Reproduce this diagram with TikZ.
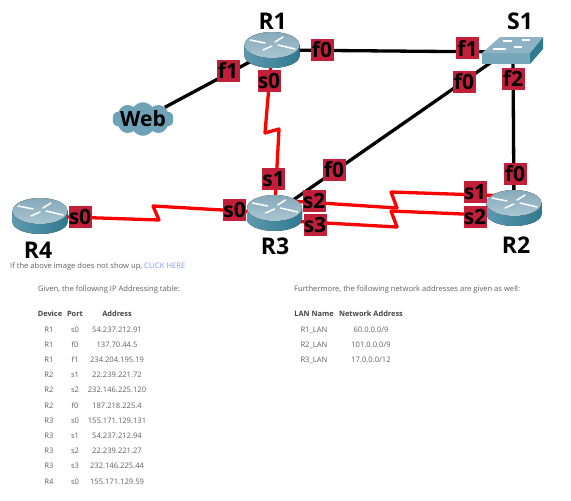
\documentclass[tikz,border=0pt]{standalone}
\usepackage{fontspec}
\setmainfont{Open Sans}
\usepackage{xcolor}
\usetikzlibrary{
  positioning,
  shapes.symbols
}
\definecolor{portred}{HTML}{C21F3A}
\definecolor{wanred}{HTML}{FF0000}
\definecolor{bodytext}{HTML}{5F5F5F}
\definecolor{headtext}{HTML}{444444}
\definecolor{linkblue}{HTML}{7F95F0}
\definecolor{devtop}{HTML}{8DB2C3}
\definecolor{devdark}{HTML}{2F7A90}
\definecolor{devmid}{HTML}{DCEAF0}
\definecolor{devleft}{HTML}{5E98AE}

\begin{document}
\begin{tikzpicture}[
  x=1pt, y=-1pt,
  port/.style={fill=portred, text=black, font=\fontsize{21}{21}\selectfont\bfseries,
    minimum width=23pt, minimum height=22pt, inner sep=0pt},
  devlabel/.style={text=black, font=\fontsize{23}{23}\selectfont\bfseries, inner sep=0pt},
  devspot/.style={inner sep=0pt, minimum width=30pt, minimum height=20pt},
  lanlink/.style={draw=black, line width=3.3pt},
  wanlink/.style={draw=wanred, line width=3.3pt, line join=round},
  cloudnode/.style={cloud, cloud puffs=10, cloud puff arc=110, aspect=2.4, fill=devleft!90!white,
    font=\fontsize{21}{21}\selectfont\bfseries, inner sep=-1.5pt},
  bodynote/.style={text=bodytext, font=\fontsize{7.6}{8}\selectfont, inner sep=0pt},
  headnote/.style={text=headtext, font=\fontsize{7.4}{8}\selectfont\bfseries, inner sep=0pt},
  routericon/.pic={
    \fill[left color=devleft, middle color=devmid, right color=devdark]
      (-27.5,-5) -- (-27.5,6) .. controls (-27.5,13) and (-14,18) .. (0,18)
      .. controls (14,18) and (27.5,13) .. (27.5,6) -- (27.5,-5) -- cycle;
    \fill[top color=devtop!95!black, bottom color=devtop!75!white] (0,-5) ellipse [x radius=27.5pt, y radius=13pt];
    \draw[white, line width=1.5pt, line cap=round] (-22,-10) -- (-7,-7);
    \draw[white, line width=1.5pt, line cap=round] (6,-5) -- (23,-1);
    \draw[white, line width=1.5pt, line cap=round] (3,-8) -- (11,-13);
    \draw[white, line width=1.5pt, line cap=round] (-9,0) -- (0,-4);
  },
  switchicon/.pic={
    \fill[devdark] (24,1) -- (37,-15) -- (37,-3) -- (24,12) -- cycle;
    \fill[devleft!85!white] (-24,1) -- (24,1) -- (24,12) -- (-24,12) -- cycle;
    \fill[devtop] (-24,1) -- (-6,-15) -- (37,-15) -- (24,1) -- cycle;
    \draw[white, line width=1.2pt] (-3,-11) -- (6,-11);
    \draw[white, line width=1.2pt] (16,-12) -- (24,-12);
    \draw[white, line width=1.2pt] (-13,-3) -- (0,-3);
    \draw[white, line width=1.2pt] (8,-5) -- (16,-5);
  }
]

% ============ DEVICES ============
\useasboundingbox (0,0) rectangle (571,501);
\node[devspot] (R1) at (272,50) {};
\node[devspot] (R2) at (514,208) {};
\node[devspot] (R3) at (274.5,213) {};
\node[devspot] (R4) at (40,216) {};
\node[devspot] (S1) at (506,52) {};
\node[cloudnode] (Web) at (143,119) {Web};

% ============ LINKS ============
\coordinate (wanAa) at (265,133);
\coordinate (wanAb) at (279,129);
\coordinate (wanBa) at (159,220);
\coordinate (wanBb) at (153,206);
\coordinate (wanCa) at (397,208);
\coordinate (wanCb) at (391,192);
\coordinate (wanDa) at (397,227);
\coordinate (wanDb) at (391,211);
\coordinate (R3s2) at (290,201);
\coordinate (R3s3) at (290,221);
\coordinate (R2s1) at (510,196);
\coordinate (R2s2) at (510,216);
\coordinate (S1down) at (513,58);
\draw[lanlink] (Web) -- (R1);
\draw[lanlink] (R1) -- (S1);
\draw[lanlink] (S1) -- (R3);
\draw[lanlink] (S1down) -- (R2);
\draw[wanlink] (R1) -- (wanAa) -- (wanAb) -- (R3);
\draw[wanlink] (R4) -- (wanBa) -- (wanBb) -- (R3);
\draw[wanlink] (R3s2) -- (wanCa) -- (wanCb) -- (R2s1);
\draw[wanlink] (R3s3) -- (wanDa) -- (wanDb) -- (R2s2);

\pic at (R1) {routericon};
\pic at (R2) {routericon};
\pic at (R3) {routericon};
\pic at (R4) {routericon};
\pic at (S1) {switchicon};

% ============ PORTS ============
\node[port] (R1f1) at (228,70.5) {f1};
\node[port] (R1s0) at (269,81) {s0};
\node[port] (R1f0) at (322,50) {f0};
\node[port] (S1f1) at (467.5,48) {f1};
\node[port] (S1f0) at (464,82) {f0};
\node[port] (S1f2) at (513,78.5) {f2};
\node[port] (R3s1) at (273.7,179) {s1};
\node[port] (R3s0) at (234.7,210) {s0};
\node[port] (R4s0) at (80,217) {s0};
\node[port] (R3f0) at (334,170) {f0};
\node[port] (R3ps2) at (314,200.5) {s2};
\node[port] (R3ps3) at (315,225) {s3};
\node[port] (R2ps1) at (475,192) {s1};
\node[port] (R2ps2) at (475,217) {s2};
\node[port] (R2f0) at (515,174) {f0};

% ============ NAMES ============
\node[devlabel] (nameR1) at (272.7,21) {R1};
\node[devlabel] (nameS1) at (520,21) {S1};
\node[devlabel] (nameR4) at (38,250) {R4};
\node[devlabel] (nameR3) at (275,246) {R3};
\node[devlabel] (nameR2) at (516,245) {R2};

% ============ NOTES ============
\node[bodynote, anchor=west] (noteimg) at (10,267) {If the above image does not show up, \textcolor{linkblue}{CLICK HERE}};
\node[bodynote, anchor=west] (notegiven) at (38,290) {Given, the following IP Addressing table:};
\node[bodynote, anchor=west] (notemore) at (294,290) {Furthermore, the following network addresses are given as well:};

% ============ IP TABLE ============
\node[headnote] (headdev) at (50,314) {Device};
\node[headnote] (headport) at (75,314) {Port};
\node[headnote] (headaddr) at (117,314) {Address};
\node[bodynote] (devA) at (49,330) {R1};
\node[bodynote] (portA) at (75,330) {s0};
\node[bodynote] (addrA) at (117,330) {54.237.212.91};
\node[bodynote] (devB) at (49,345) {R1};
\node[bodynote] (portB) at (75,345) {f0};
\node[bodynote] (addrB) at (117,345) {137.70.44.5};
\node[bodynote] (devC) at (49,360) {R1};
\node[bodynote] (portC) at (75,360) {f1};
\node[bodynote] (addrC) at (117,360) {234.204.195.19};
\node[bodynote] (devD) at (49,375) {R2};
\node[bodynote] (portD) at (75,375) {s1};
\node[bodynote] (addrD) at (117,375) {22.239.221.72};
\node[bodynote] (devE) at (49,390) {R2};
\node[bodynote] (portE) at (75,390) {s2};
\node[bodynote] (addrE) at (117,390) {232.146.225.120};
\node[bodynote] (devF) at (49,406) {R2};
\node[bodynote] (portF) at (75,406) {f0};
\node[bodynote] (addrF) at (117,406) {187.218.225.4};
\node[bodynote] (devG) at (49,421) {R3};
\node[bodynote] (portG) at (75,421) {s0};
\node[bodynote] (addrG) at (117,421) {155.171.129.131};
\node[bodynote] (devH) at (49,436) {R3};
\node[bodynote] (portH) at (75,436) {s1};
\node[bodynote] (addrH) at (117,436) {54.237.212.94};
\node[bodynote] (devI) at (49,451) {R3};
\node[bodynote] (portI) at (75,451) {s2};
\node[bodynote] (addrI) at (117,451) {22.239.221.27};
\node[bodynote] (devJ) at (49,466) {R3};
\node[bodynote] (portJ) at (75,466) {s3};
\node[bodynote] (addrJ) at (117,466) {232.146.225.44};
\node[bodynote] (devK) at (49,482) {R4};
\node[bodynote] (portK) at (75,482) {s0};
\node[bodynote] (addrK) at (117,482) {155.171.129.59};

% ============ LAN TABLE ============
\node[headnote] (headlan) at (314,314) {LAN Name};
\node[headnote] (headnet) at (371,314) {Network Address};
\node[bodynote] (lanA) at (314,330) {R1\_LAN};
\node[bodynote] (netA) at (371,330) {60.0.0.0/9};
\node[bodynote] (lanB) at (314,345) {R2\_LAN};
\node[bodynote] (netB) at (371,345) {101.0.0.0/9};
\node[bodynote] (lanC) at (314,360) {R3\_LAN};
\node[bodynote] (netC) at (371,360) {17.0.0.0/12};

\end{tikzpicture}
\end{document}
